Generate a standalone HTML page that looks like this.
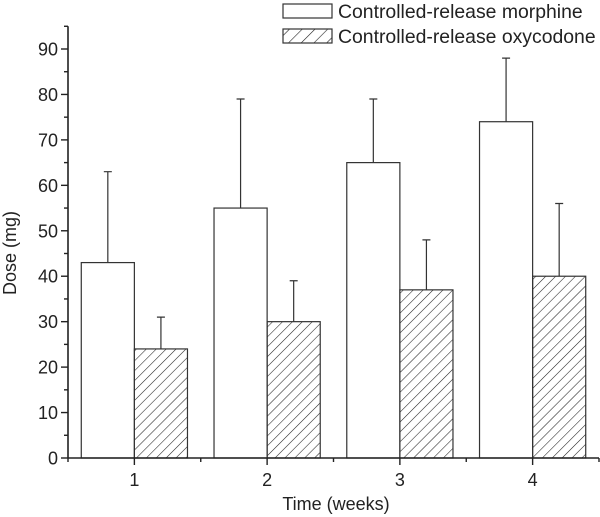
<!DOCTYPE html>
<html><head><meta charset="utf-8"><style>
body{margin:0;background:#fff}
svg{display:block;font-family:"Liberation Sans",Arial,sans-serif}
</style></head><body>
<svg id="chart" width="600" height="517" viewBox="0 0 600 517">
<defs>
<pattern id="hatch" patternUnits="userSpaceOnUse" width="7" height="7" patternTransform="rotate(45)">
<line x1="0" y1="0" x2="0" y2="7" stroke="#222" stroke-width="1.1"/>
</pattern>
<pattern id="hatchL" patternUnits="userSpaceOnUse" width="9" height="9" patternTransform="rotate(45)">
<line x1="0" y1="0" x2="0" y2="9" stroke="#222" stroke-width="1.2"/>
</pattern>
</defs>
<g id="marks"></g>
<g id="axes"></g>
<g>
<rect x="283" y="4" width="49" height="14" fill="#fff" stroke="#333" stroke-width="1.2"/>
<text x="338" y="18" font-size="19.4" fill="#222">Controlled-release morphine</text>
<rect x="283" y="29" width="49" height="14" fill="url(#hatchL)" stroke="#333" stroke-width="1.2"/>
<text x="338" y="43" font-size="19.4" fill="#222">Controlled-release oxycodone</text>
</g>
<text x="336" y="510" font-size="18" text-anchor="middle" fill="#222">Time (weeks)</text>
<text transform="translate(16,253) rotate(-90)" font-size="18" text-anchor="middle" fill="#222">Dose (mg)</text>
</svg>
<script>
const categories = [1, 2, 3, 4];
const morphine = [43, 55, 65, 74];
const morphineErrTop = [63, 79, 79, 88];
const oxycodone = [24, 30, 37, 40];
const oxycodoneErrTop = [31, 39, 48, 56];
const yTicks = [0, 10, 20, 30, 40, 50, 60, 70, 80, 90];

const NS = "http://www.w3.org/2000/svg";
const X0 = 68, X1 = 599, Y0 = 458, Y90 = 49;
const xs = v => X0 + (v - 0.5) * (X1 - X0) / 4;
const ys = v => Y0 - v * (Y0 - Y90) / 90;
const marks = document.getElementById('marks');
const axes = document.getElementById('axes');
function mk(tag, attrs, parent){
  const e = document.createElementNS(NS, tag);
  for (const k in attrs) e.setAttribute(k, attrs[k]);
  parent.appendChild(e); return e;
}
const bw = 0.4;
function drawBar(c, v, top, fill, name, i){
  const xl = c === 'm' ? xs(categories[i] - bw) : xs(categories[i]);
  const xr = c === 'm' ? xs(categories[i]) : xs(categories[i] + bw);
  const cx = (xl + xr) / 2;
  const eb = mk('path', {d:`M${cx},${ys(v)}V${ys(top)}M${cx-4},${ys(top)}H${cx+4}`, stroke:'#333', 'stroke-width':1.2, fill:'none'}, marks);
  
  
  const r = mk('rect', {x:xl, y:ys(v), width:xr-xl, height:Y0-ys(v), fill:fill, stroke:'#333', 'stroke-width':1.2}, marks);
  
  
}
categories.forEach((c, i) => {
  drawBar('m', morphine[i], morphineErrTop[i], '#fff', 'morphine', i);
  drawBar('o', oxycodone[i], oxycodoneErrTop[i], 'url(#hatch)', 'oxycodone', i);
});
const ya = mk('line', {x1:X0, y1:Y0, x2:X0, y2:ys(95), stroke:'#222', 'stroke-width':1.6}, axes);


const xa = mk('line', {x1:X0, y1:Y0, x2:X1, y2:Y0, stroke:'#222', 'stroke-width':1.6}, axes);


yTicks.forEach(t => {
  mk('line', {x1:X0-7, y1:ys(t), x2:X0, y2:ys(t), stroke:'#222', 'stroke-width':1.4}, axes);
  mk('line', {x1:X0-4, y1:ys(t+5), x2:X0, y2:ys(t+5), stroke:'#222', 'stroke-width':1.4}, axes);
  const tx = mk('text', {x:X0-10, y:ys(t)+6.5, 'font-size':18, 'text-anchor':'end', fill:'#222'}, axes);
  tx.textContent = t;
  
  
});
categories.forEach(c => {
  mk('line', {x1:xs(c), y1:Y0, x2:xs(c), y2:Y0+7, stroke:'#222', 'stroke-width':1.4}, axes);
  mk('line', {x1:xs(c+0.5), y1:Y0, x2:xs(c+0.5), y2:Y0+4, stroke:'#222', 'stroke-width':1.4}, axes);
  const tx = mk('text', {x:xs(c), y:Y0+28, 'font-size':18, 'text-anchor':'middle', fill:'#222'}, axes);
  tx.textContent = c;
  
  
});
mk('line', {x1:xs(0.5), y1:Y0, x2:xs(0.5), y2:Y0+4, stroke:'#222', 'stroke-width':1.4}, axes);
</script>
</body></html>
